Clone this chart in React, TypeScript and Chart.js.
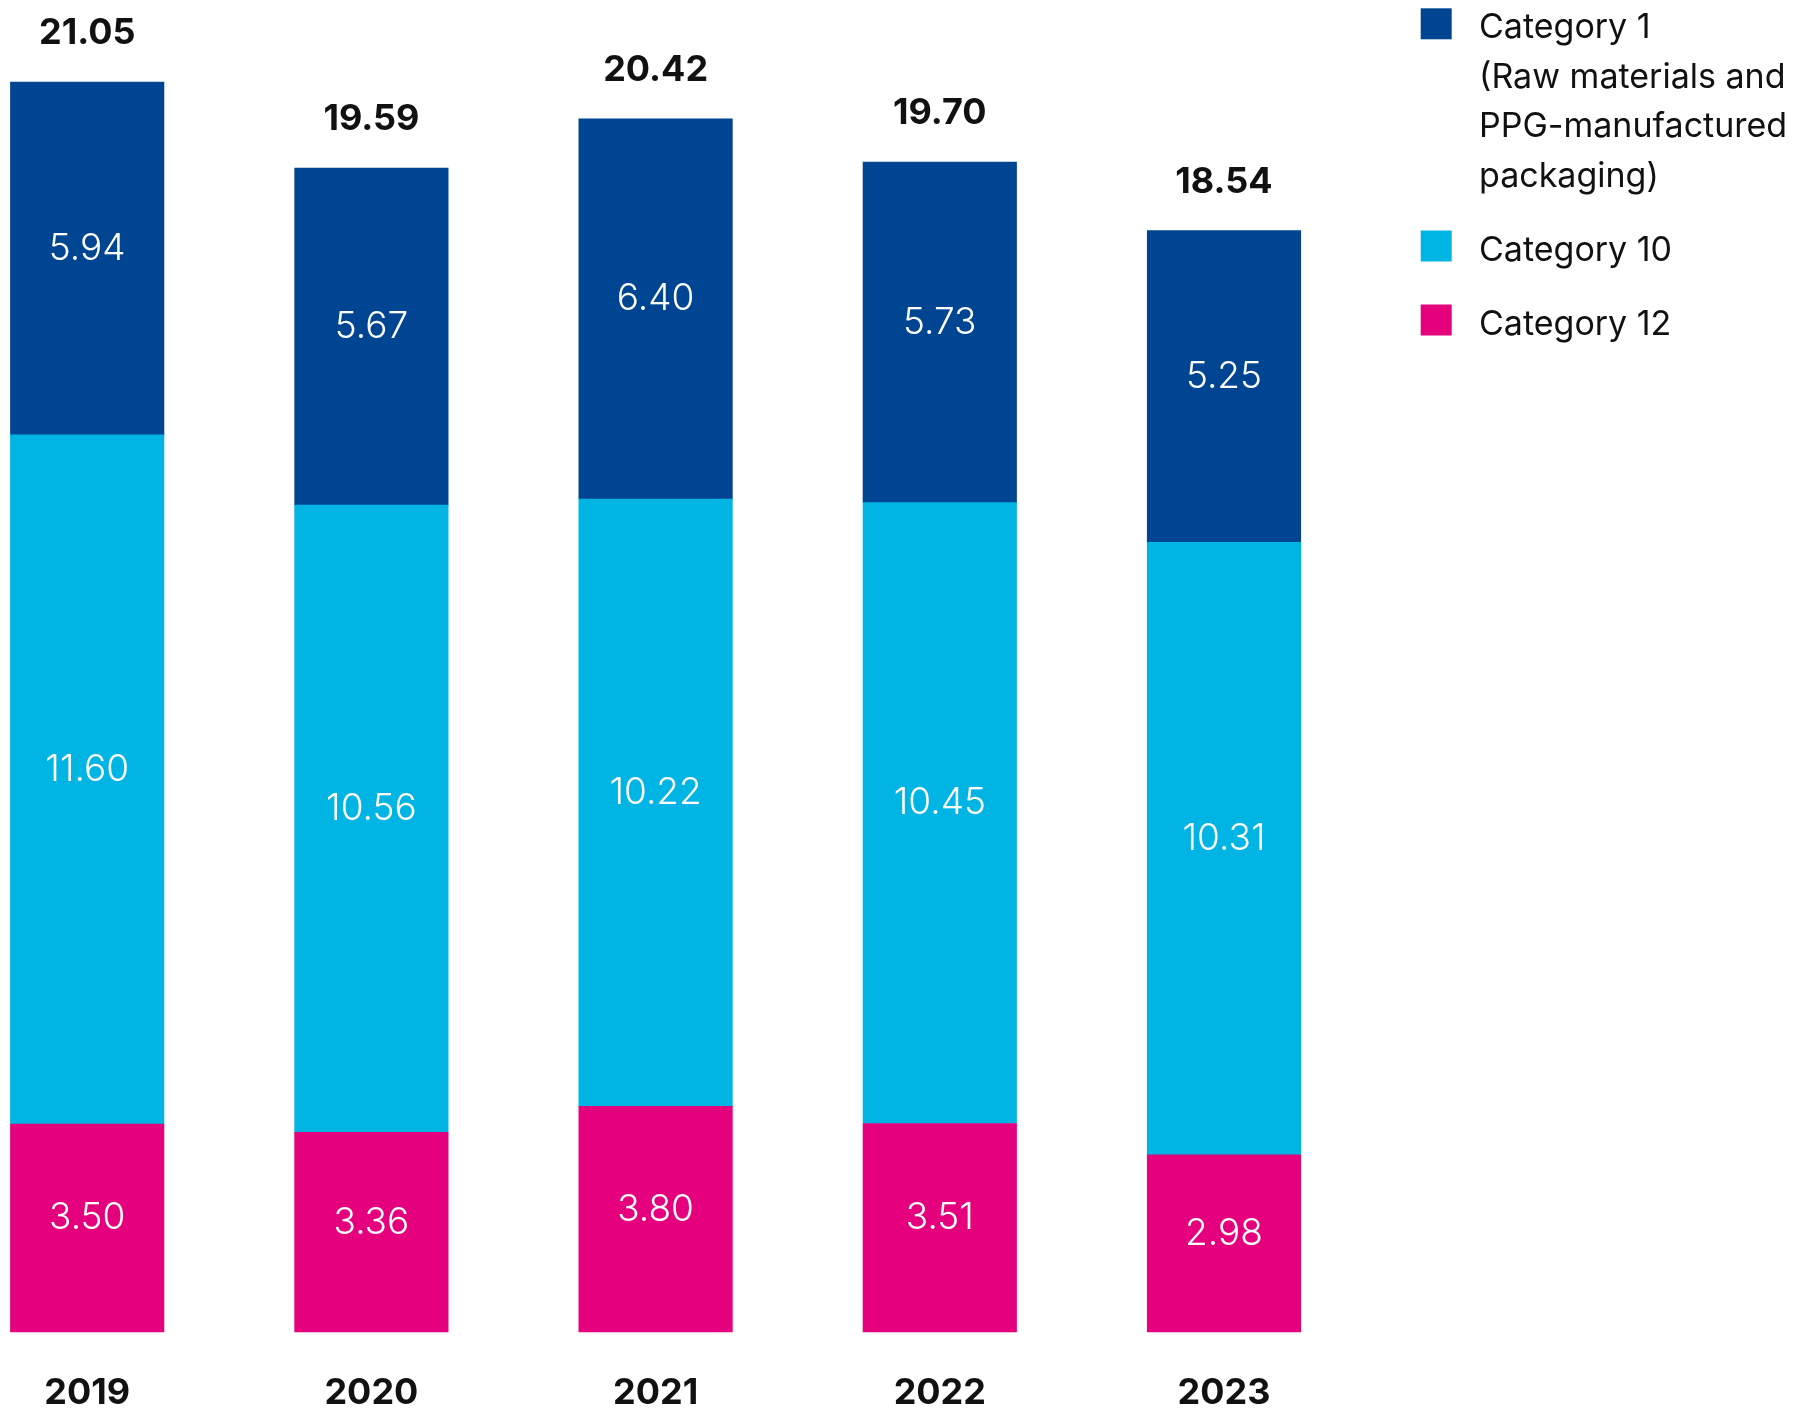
import { useEffect, useRef } from "react";
import { Chart, registerables } from "chart.js";

Chart.register(...registerables);

// ---- data ----
const years = ["2019", "2020", "2021", "2022", "2023"];
const category1 = [5.94, 5.67, 6.4, 5.73, 5.25];
const category10 = [11.6, 10.56, 10.22, 10.45, 10.31];
const category12 = [3.5, 3.36, 3.8, 3.51, 2.98];
const totals = [21.05, 19.59, 20.42, 19.7, 18.54];
const labelCategory1 = "Category 1\n(Raw materials and\nPPG-manufactured\npackaging)";
const labelCategory10 = "Category 10";
const labelCategory12 = "Category 12";

// ---- styles ----
const COLOR_CAT1 = "#004591";
const COLOR_CAT10 = "#00B4E4";
const COLOR_CAT12 = "#E5007D";
const FONT = "Inter, 'Liberation Sans', Arial, sans-serif";
const W = 1803;
const H = 1417;

const fmt = (v: number) => v.toFixed(2);

const valueLabelsPlugin = {
  id: "valueLabels",
  afterDatasetsDraw(chart: any) {
    const ctx = chart.ctx as CanvasRenderingContext2D;
    ctx.save();
    ctx.textAlign = "center";
    ctx.textBaseline = "alphabetic";
    const inner = 37;
    chart.data.datasets.forEach((ds: any, di: number) => {
      const meta = chart.getDatasetMeta(di);
      meta.data.forEach((bar: any, i: number) => {
        const { x, y, base } = bar.getProps(["x", "y", "base"], true);
        const mid = (y + base) / 2 - 12;
        ctx.font = `300 ${inner}px ${FONT}`;
        ctx.fillStyle = "#ffffff";
        ctx.fillText(fmt(ds.data[i]), x, mid + (0.727 * inner) / 2);
      });
    });
    const topMeta = chart.getDatasetMeta(chart.data.datasets.length - 1);
    const tot = 36;
    topMeta.data.forEach((bar: any, i: number) => {
      const { x, y } = bar.getProps(["x", "y"], true);
      ctx.font = `700 ${tot}px ${FONT}`;
      ctx.fillStyle = "#111111";
      ctx.fillText(fmt(totals[i]), x, y - 51 + (0.727 * tot) / 2);
    });
    ctx.restore();
  },
};

const legendPlugin = {
  id: "customLegend",
  afterDraw(chart: any) {
    const ctx = chart.ctx as CanvasRenderingContext2D;
    ctx.save();
    const size = 34;
    ctx.font = `400 ${size}px ${FONT}`;
    ctx.textAlign = "left";
    ctx.textBaseline = "alphabetic";
    const boxX = 1420.7;
    const textX = 1479;
    const lineGap = 49.4;
    const itemGap = 74;
    let baseline = 38.3;
    const sets = [...chart.data.datasets].reverse();
    sets.forEach((ds: any) => {
      const lines = String(ds.label).split("\n");
      ctx.fillStyle = ds.backgroundColor;
      ctx.fillRect(boxX, baseline - 30, 31, 31);
      ctx.fillStyle = "#111111";
      lines.forEach((ln: string, j: number) => {
        ctx.fillText(ln, textX, baseline + j * lineGap);
      });
      baseline += (lines.length - 1) * lineGap + itemGap;
    });
    ctx.restore();
  },
};

export default function App() {
  const canvasRef = useRef<HTMLCanvasElement | null>(null);

  useEffect(() => {
    const canvas = canvasRef.current;
    if (!canvas) return;
    const chart = new Chart(canvas, {
      type: "bar",
      data: {
        labels: years,
        datasets: [
          { label: labelCategory12, data: category12, backgroundColor: COLOR_CAT12, borderWidth: 0, barThickness: 153.5, clip: false } as any,
          { label: labelCategory10, data: category10, backgroundColor: COLOR_CAT10, borderWidth: 0, barThickness: 153.5, clip: false } as any,
          { label: labelCategory1, data: category1, backgroundColor: COLOR_CAT1, borderWidth: 0, barThickness: 153.5, clip: false } as any,
        ],
      },
      options: {
        responsive: false,
        animation: false,
        devicePixelRatio: 1,
        layout: { padding: { left: 87.2, right: 579, top: 0, bottom: 0 } },
        plugins: {
          legend: { display: false },
          tooltip: { enabled: false },
        },
        scales: {
          x: {
            stacked: true,
            offset: false,
            grid: { display: false, drawTicks: false },
            border: { display: false },
            ticks: {
              color: "#111111",
              font: { family: FONT, weight: "bold", size: 36 },
              padding: 40,
              autoSkip: false,
              maxRotation: 0,
            },
            afterFit(scale: any) {
              scale.height = 85;
            },
          },
          y: {
            stacked: true,
            display: false,
            min: 0,
            max: 22.42,
          },
        },
      },
      plugins: [valueLabelsPlugin, legendPlugin],
    } as any);

    let alive = true;
    if ((document as any).fonts) {
      Promise.all([
        document.fonts.load(`300 37px Inter`),
        document.fonts.load(`700 36px Inter`),
        document.fonts.load(`400 34px Inter`),
      ])
        .then(() => {
          if (alive) chart.update();
        })
        .catch(() => {});
    }
    return () => {
      alive = false;
      chart.destroy();
    };
  }, []);

  return (
    <div style={{ position: "absolute", left: 0, top: 0, width: W, height: H, background: "#ffffff" }}>
      <canvas ref={canvasRef} width={W} height={H} style={{ display: "block", width: W, height: H }} />
    </div>
  );
}
